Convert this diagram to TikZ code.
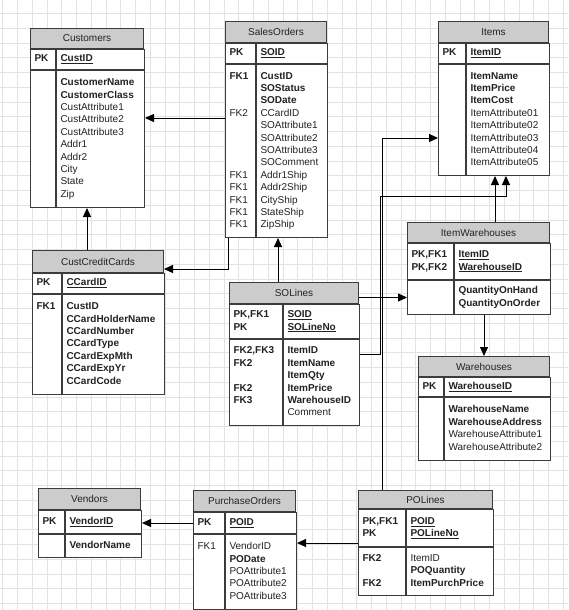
\documentclass[tikz,border=0pt]{standalone}
\usepackage{fontspec}
\setmainfont{Liberation Sans}
\usetikzlibrary{positioning, arrows.meta}

\definecolor{edge}{HTML}{3C3C3C}
\definecolor{hdrfill}{HTML}{CCCCCC}
\definecolor{ink}{HTML}{222222}
\definecolor{gridln}{HTML}{E2E2E2}
\newcommand\tabfont{\fontsize{10}{12.4}\selectfont}
\newcommand\pkf[1]{\underline{\textbf{#1}}}

\begin{document}
\begin{tikzpicture}[
    x=1pt, y=-1pt,
    hdr/.style={draw=edge, line width=1pt, fill=hdrfill, anchor=north west, inner sep=0pt, font=\tabfont, text=ink},
    cell/.style={draw=edge, line width=1pt, fill=white, anchor=north west, inner xsep=4pt, inner ysep=0pt, align=left, font=\tabfont, text=ink, execute at begin node=\strut, execute at end node=\strut},
    keyc/.style={cell, font=\tabfont\bfseries},
    fk/.style={-{Triangle[length=9pt, width=8pt]}, line width=1pt, draw=black},
    gridline/.style={draw=gridln, line width=0.6pt}
]
\useasboundingbox (0,0) rectangle (568,610);
\fill[white] (0,0) rectangle (568,610);
\foreach \gx in {0,...,38} \draw[gridline] (2.75+\gx*14.75,0) -- (2.75+\gx*14.75,610);
\foreach \gy in {0,...,40} \draw[gridline] (0,13.5+\gy*14.75) -- (568,13.5+\gy*14.75);

% Customers
\node[hdr, minimum width=113pt, minimum height=20pt] (cust) at (30,28) {Customers};
\node[keyc, text width=17pt, minimum height=20pt] (custpkk) at (cust.south west) {PK};
\node[cell, text width=80pt, minimum height=20pt] (custpkf) at (custpkk.north east) {\pkf{CustID}};
\node[keyc, text width=17pt, minimum height=137pt] (custbk) at (custpkk.south west) {};
\node[cell, text width=80pt, minimum height=137pt] (custbf) at (custbk.north east) {\textbf{CustomerName}\\\textbf{CustomerClass}\\CustAttribute1\\CustAttribute2\\CustAttribute3\\Addr1\\Addr2\\City\\State\\Zip};

% SalesOrders
\node[hdr, minimum width=101pt, minimum height=21pt] (so) at (225,21) {SalesOrders};
\node[keyc, text width=22pt, minimum height=20pt] (sopkk) at (so.south west) {PK};
\node[cell, text width=63pt, minimum height=20pt] (sopkf) at (sopkk.north east) {\pkf{SOID}};
\node[keyc, text width=22pt, minimum height=173pt] (sobk) at (sopkk.south west) {FK1\\~\\~\\{\mdseries FK2}\\~\\~\\~\\~\\{\mdseries FK1}\\{\mdseries FK1}\\{\mdseries FK1}\\{\mdseries FK1}\\{\mdseries FK1}};
\node[cell, text width=63pt, minimum height=173pt] (sobf) at (sobk.north east) {\textbf{CustID}\\\textbf{SOStatus}\\\textbf{SODate}\\CCardID\\SOAttribute1\\SOAttribute2\\SOAttribute3\\SOComment\\Addr1Ship\\Addr2Ship\\CityShip\\StateShip\\ZipShip};

% Items
\node[hdr, minimum width=110pt, minimum height=21pt] (it) at (438,21) {Items};
\node[keyc, text width=19pt, minimum height=20pt] (itpkk) at (it.south west) {PK};
\node[cell, text width=75pt, minimum height=20pt] (itpkf) at (itpkk.north east) {\pkf{ItemID}};
\node[keyc, text width=19pt, minimum height=111pt] (itbk) at (itpkk.south west) {};
\node[cell, text width=75pt, minimum height=111pt] (itbf) at (itbk.north east) {\textbf{ItemName}\\\textbf{ItemPrice}\\\textbf{ItemCost}\\ItemAttribute01\\ItemAttribute02\\ItemAttribute03\\ItemAttribute04\\ItemAttribute05};

% CustCreditCards
\node[hdr, minimum width=131pt, minimum height=22pt] (cc) at (32,250) {CustCreditCards};
\node[keyc, text width=21pt, minimum height=20pt] (ccpkk) at (cc.south west) {PK};
\node[cell, text width=94pt, minimum height=20pt] (ccpkf) at (ccpkk.north east) {\pkf{CCardID}};
\node[keyc, text width=21pt, minimum height=100pt] (ccbk) at (ccpkk.south west) {FK1\\~\\~\\~\\~\\~\\~};
\node[cell, text width=94pt, minimum height=100pt, font=\tabfont\bfseries] (ccbf) at (ccbk.north east) {CustID\\CCardHolderName\\CCardNumber\\CCardType\\CCardExpMth\\CCardExpYr\\CCardCode};

% SOLines
\node[hdr, minimum width=129pt, minimum height=21pt] (sol) at (229,282) {SOLines};
\node[keyc, text width=45pt, minimum height=34pt] (solpkk) at (sol.south west) {PK,FK1\\PK};
\node[cell, text width=68pt, minimum height=34pt] (solpkf) at (solpkk.north east) {\pkf{SOID}\\\pkf{SOLineNo}};
\node[keyc, text width=45pt, minimum height=86pt] (solbk) at (solpkk.south west) {FK2,FK3\\FK2\\~\\FK2\\FK3\\~};
\node[cell, text width=68pt, minimum height=86pt] (solbf) at (solbk.north east) {\textbf{ItemID}\\\textbf{ItemName}\\\textbf{ItemQty}\\\textbf{ItemPrice}\\\textbf{WarehouseID}\\Comment};

% ItemWarehouses
\node[hdr, minimum width=142pt, minimum height=20pt] (iw) at (407,222) {ItemWarehouses};
\node[keyc, text width=38pt, minimum height=36pt] (iwpkk) at (iw.south west) {PK,FK1\\PK,FK2};
\node[cell, text width=88pt, minimum height=36pt] (iwpkf) at (iwpkk.north east) {\pkf{ItemID}\\\pkf{WarehouseID}};
\node[keyc, text width=38pt, minimum height=34pt] (iwbk) at (iwpkk.south west) {};
\node[cell, text width=88pt, minimum height=34pt] (iwbf) at (iwbk.north east) {\textbf{QuantityOnHand}\\\textbf{QuantityOnOrder}};

% Warehouses
\node[hdr, minimum width=131pt, minimum height=20pt] (wh) at (418,356) {Warehouses};
\node[keyc, text width=17pt, minimum height=19pt] (whpkk) at (wh.south west) {PK};
\node[cell, text width=98pt, minimum height=19pt] (whpkf) at (whpkk.north east) {\pkf{WarehouseID}};
\node[keyc, text width=17pt, minimum height=63pt] (whbk) at (whpkk.south west) {};
\node[cell, text width=98pt, minimum height=63pt] (whbf) at (whbk.north east) {\textbf{WarehouseName}\\\textbf{WarehouseAddress}\\WarehouseAttribute1\\WarehouseAttribute2};

% Vendors
\node[hdr, minimum width=102pt, minimum height=21pt] (vn) at (38,488) {Vendors};
\node[keyc, text width=18pt, minimum height=23pt] (vnpkk) at (vn.south west) {PK};
\node[cell, text width=68pt, minimum height=23pt] (vnpkf) at (vnpkk.north east) {\pkf{VendorID}};
\node[keyc, text width=18pt, minimum height=23pt] (vnbk) at (vnpkk.south west) {};
\node[cell, text width=68pt, minimum height=23pt] (vnbf) at (vnbk.north east) {\textbf{VendorName}};

% PurchaseOrders
\node[hdr, minimum width=102pt, minimum height=21pt] (po) at (193,490) {PurchaseOrders};
\node[keyc, text width=23pt, minimum height=21pt] (popkk) at (po.south west) {PK};
\node[cell, text width=63pt, minimum height=21pt] (popkf) at (popkk.north east) {\pkf{POID}};
\node[keyc, text width=23pt, minimum height=75pt] (pobk) at (popkk.south west) {{\mdseries FK1}\\~\\~\\~\\~};
\node[cell, text width=63pt, minimum height=75pt] (pobf) at (pobk.north east) {VendorID\\\textbf{PODate}\\POAttribute1\\POAttribute2\\POAttribute3};

% POLines
\node[hdr, minimum width=134pt, minimum height=18pt] (pol) at (358,490) {POLines};
\node[keyc, text width=39pt, minimum height=37pt] (polpkk) at (pol.south west) {PK,FK1\\PK};
\node[cell, text width=79pt, minimum height=37pt] (polpkf) at (polpkk.north east) {\pkf{POID}\\\pkf{POLineNo}};
\node[keyc, text width=39pt, minimum height=48pt] (polbk) at (polpkk.south west) {FK2\\~\\FK2};
\node[cell, text width=79pt, minimum height=48pt] (polbf) at (polbk.north east) {ItemID\\\textbf{POQuantity}\\\textbf{ItemPurchPrice}};

% Relationships
\coordinate (so2cust) at ([yshift=-54pt]sobk.north west);
\draw[fk] (so2cust) -- (so2cust -| custbf.east);
\draw[fk] (cust.center |- cc.north) -- (cust.center |- custbf.south);
\coordinate (so2cc) at ([xshift=3pt]sobk.south west);
\draw[fk] (so2cc) |- ([yshift=-19pt]cc.north east);
\coordinate (sol2so) at ([xshift=53pt]sobk.south west);
\draw[fk] (sol2so |- sol.north) -- (sol2so);
\draw[fk] (iwbk.west -| sol.east) -- (iwbk.west);
\coordinate (sol2it) at ([yshift=-15pt]solbf.north east);
\coordinate (it2) at ([xshift=-44pt]itbf.south east);
\draw[fk] (sol2it) -- ++(20pt,0) |- ([yshift=-20pt]it2) -- (it2);
\coordinate (itin) at ([yshift=-74pt]itbk.north west);
\draw[fk] ([xshift=24pt]pol.north west) |- (itin);
\coordinate (it1) at ([xshift=-55pt]itbf.south east);
\draw[fk] (it1 |- iw.north) -- (it1);
\draw[fk] (wh.center |- iwbf.south) -- (wh.north);
\coordinate (pol2po) at ([yshift=4pt]polpkk.south west);
\draw[fk] (pol2po) -- (pol2po -| pobf.east);
\draw[fk] (popkk.west) -- (popkk.west -| vnpkf.east);

\end{tikzpicture}
\end{document}
